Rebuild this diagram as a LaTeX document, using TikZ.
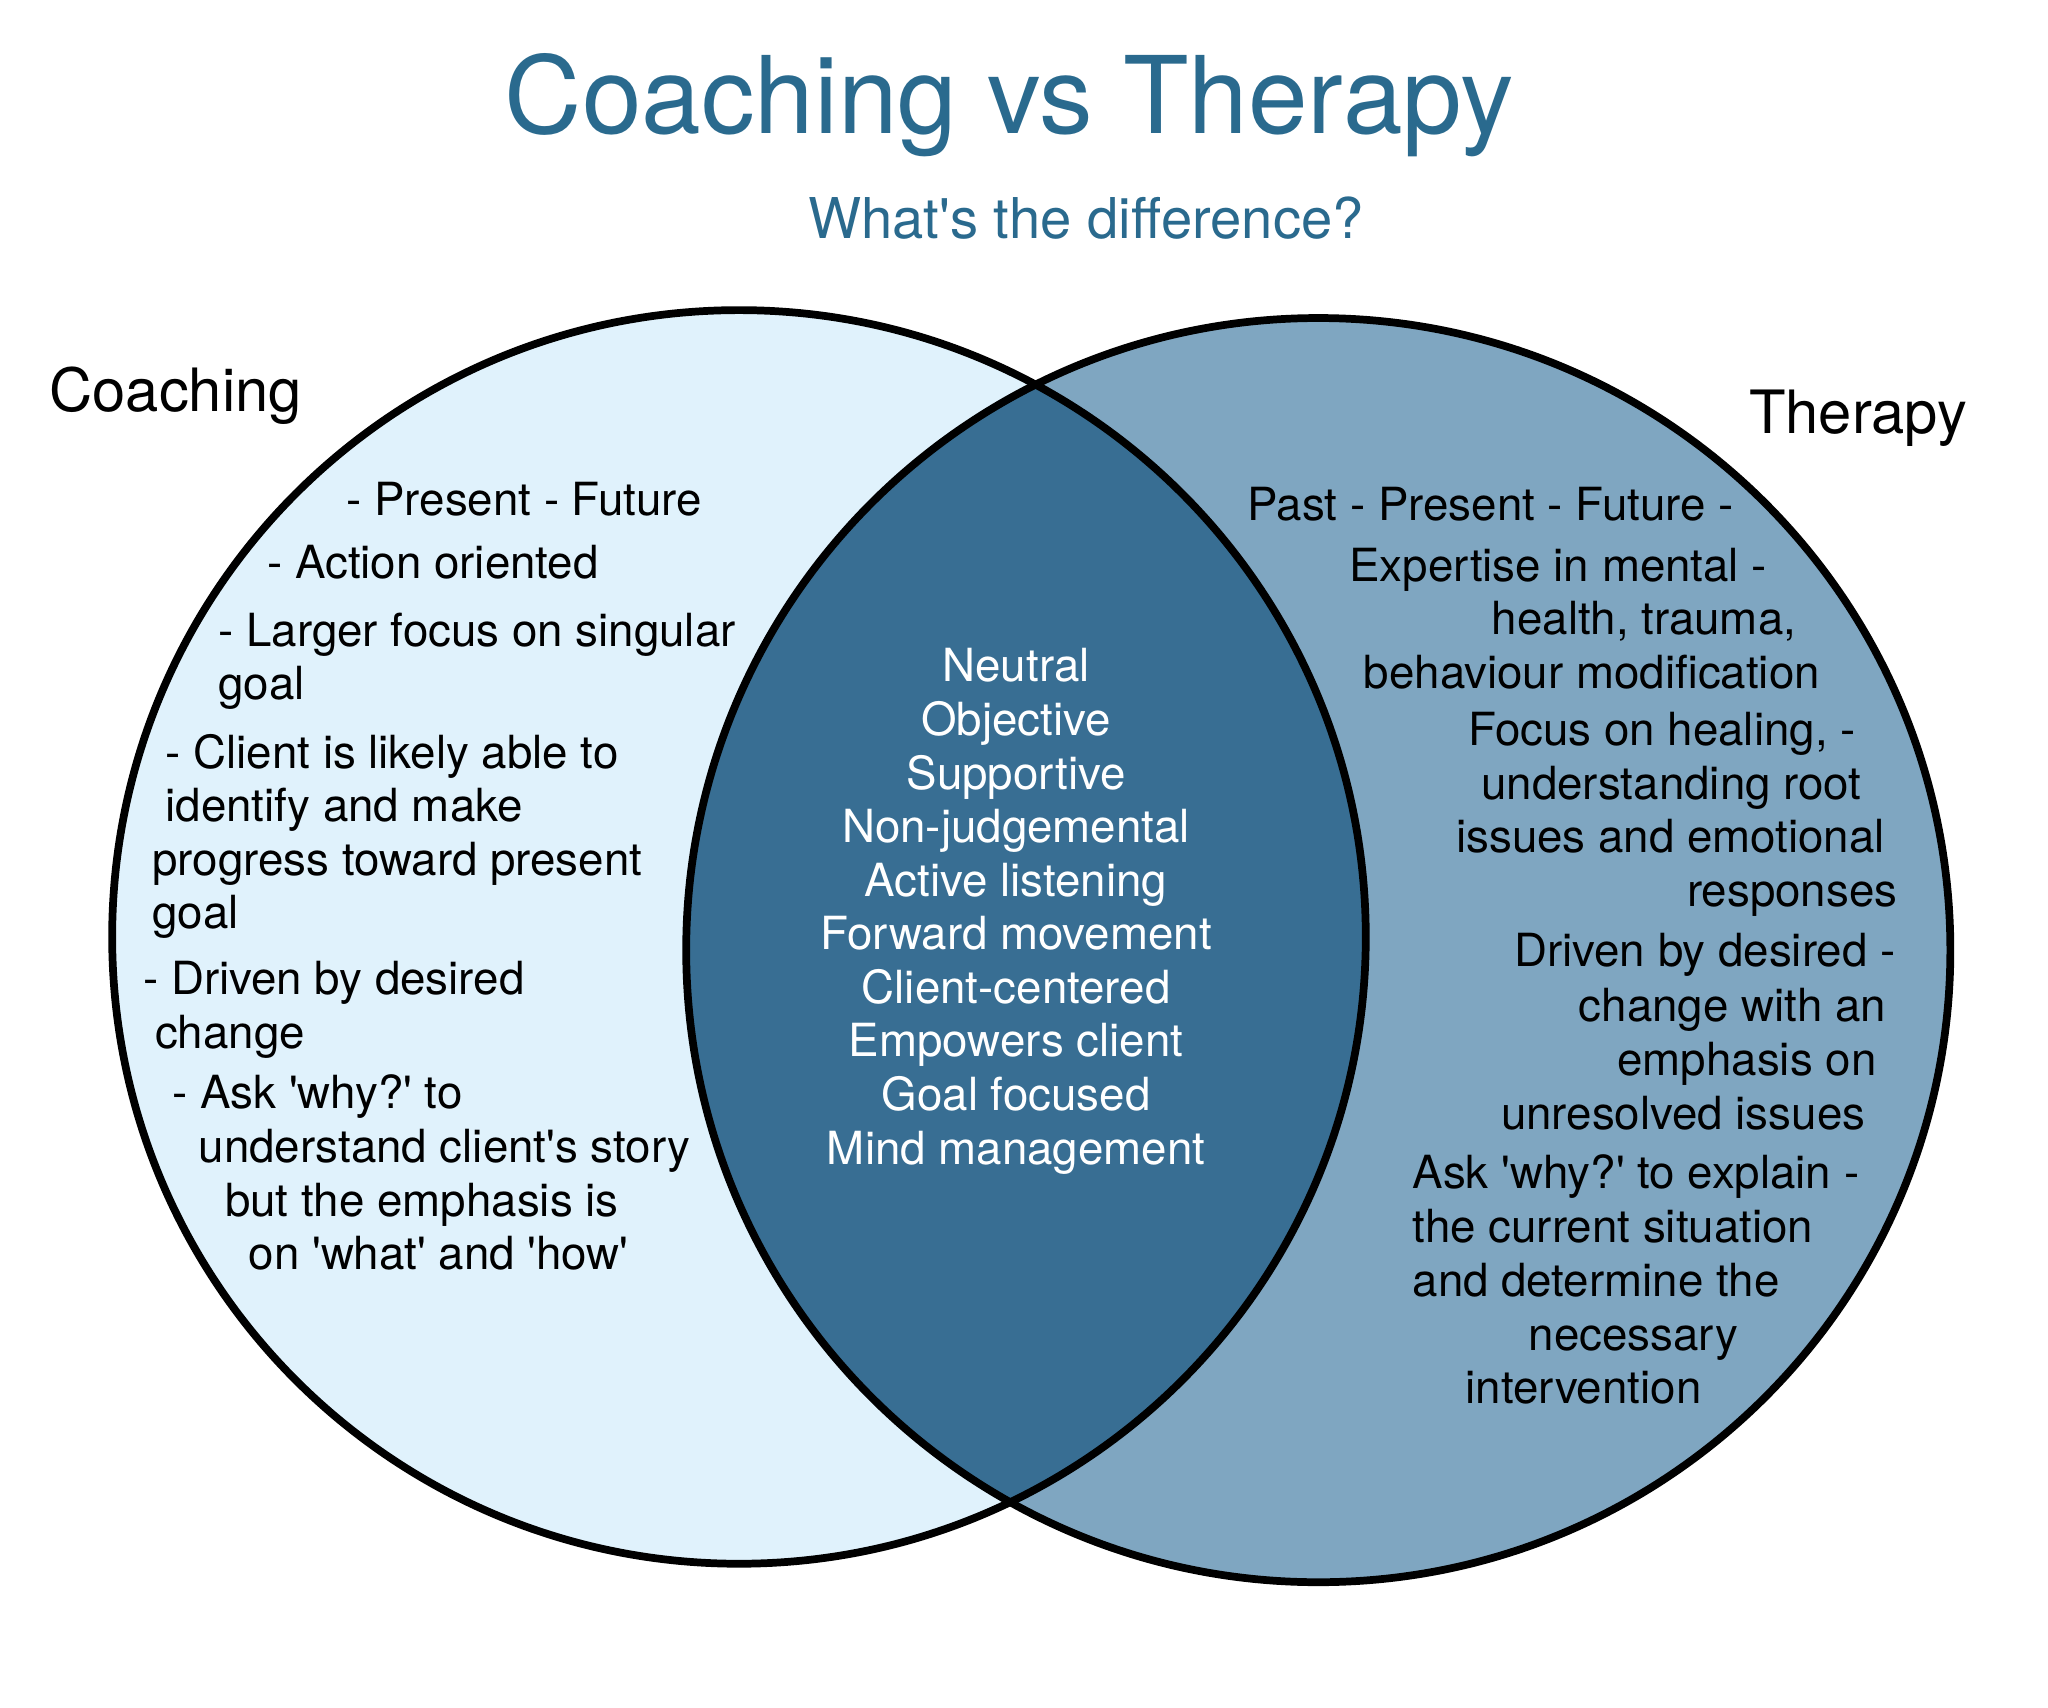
\documentclass[tikz,border=0pt]{standalone}
\usepackage{fontspec}
\setmainfont{TeX Gyre Heros}
\definecolor{coachfill}{HTML}{E0F2FC}
\definecolor{therfill}{HTML}{7FA6C1}
\definecolor{bothfill}{HTML}{386E93}
\definecolor{titleblue}{HTML}{2A6A8E}
\newcommand{\q}{\textquotesingle}
\tikzset{
  item/.style={anchor=west, inner sep=0pt, text height=1.75ex, text depth=0.5ex, font=\fontsize{13}{15}\selectfont},
  mid/.style={inner sep=0pt, text height=1.75ex, text depth=0.5ex, text=white, font=\fontsize{13}{15}\selectfont},
  ring/.style={line width=2.2pt}
}
\begin{document}
\begin{tikzpicture}[x=0.013196cm, y=-0.013196cm]

%% canvas
\useasboundingbox (0,0) rectangle (1552,1293.6);

%% circles
\fill[coachfill] (560,710) circle (475);
\fill[therfill] (999,720) circle (479);
\begin{scope}
  \clip (560,710) circle (475);
  \fill[bothfill] (999,720) circle (479);
\end{scope}
\draw[ring] (560,710) circle (475); % coaching
\draw[ring] (999,720) circle (479); % therapy

%% title
\node[text=titleblue, font=\fontsize{30.5}{34}\selectfont] (title) at (765,80) {Coaching vs Therapy};
\node[text=titleblue, font=\fontsize{16}{19}\selectfont] (subtitle) at (823,165) {What\q s the difference?};
\node[anchor=west, inner sep=0pt, font=\fontsize{17}{20}\selectfont] (coach) at (37,300) {Coaching};
\node[anchor=west, inner sep=0pt, font=\fontsize{17}{20}\selectfont] (ther) at (1325,317) {Therapy};

%% coaching side
\foreach \x/\y/\t [count=\i] in {262/382/{- Present - Future}, 202/430/{- Action oriented},
  165/481/{- Larger focus on singular}, 165/521/{goal}, 125/574/{- Client is likely able to},
  125/614/{identify and make}, 115/655/{progress toward present}, 115/695/{goal},
  108/745/{- Driven by desired}, 117/786/{change}, 130/831/{- Ask \q why?\q\ to},
  150/872/{understand client\q s story}, 170/913/{but the emphasis is},
  188/953/{on \q what\q\ and \q how\q}}
  \node[item] (c\i) at (\x,\y) {\t};

%% shared
\foreach \t [count=\i] in {Neutral, Objective, Supportive, Non-judgemental, Active listening,
  Forward movement, Client-centered, Empowers client, Goal focused, Mind management}
  \node[mid] (b\i) at (770,{508+40.6*(\i-1)}) {\t};

%% therapy side
\foreach \x/\y/\t [count=\i] in {945/386/{Past - Present - Future -}, 1022/432/{Expertise in mental -},
  1130/472/{health, trauma,}, 1033/513/{behaviour modification}, 1112/556/{Focus on healing, -},
  1122/597/{understanding root}, 1103/637/{issues and emotional}, 1278/678/{responses},
  1147/724/{Driven by desired -}, 1196/765/{change with an}, 1225/806/{emphasis on},
  1137/847/{unresolved issues}, 1070/892/{Ask \q why?\q\ to explain -},
  1070/933/{the current situation}, 1070/974/{and determine the}, 1158/1015/{necessary},
  1110/1055/{intervention}}
  \node[item] (t\i) at (\x,\y) {\t};

\end{tikzpicture}
\end{document}
